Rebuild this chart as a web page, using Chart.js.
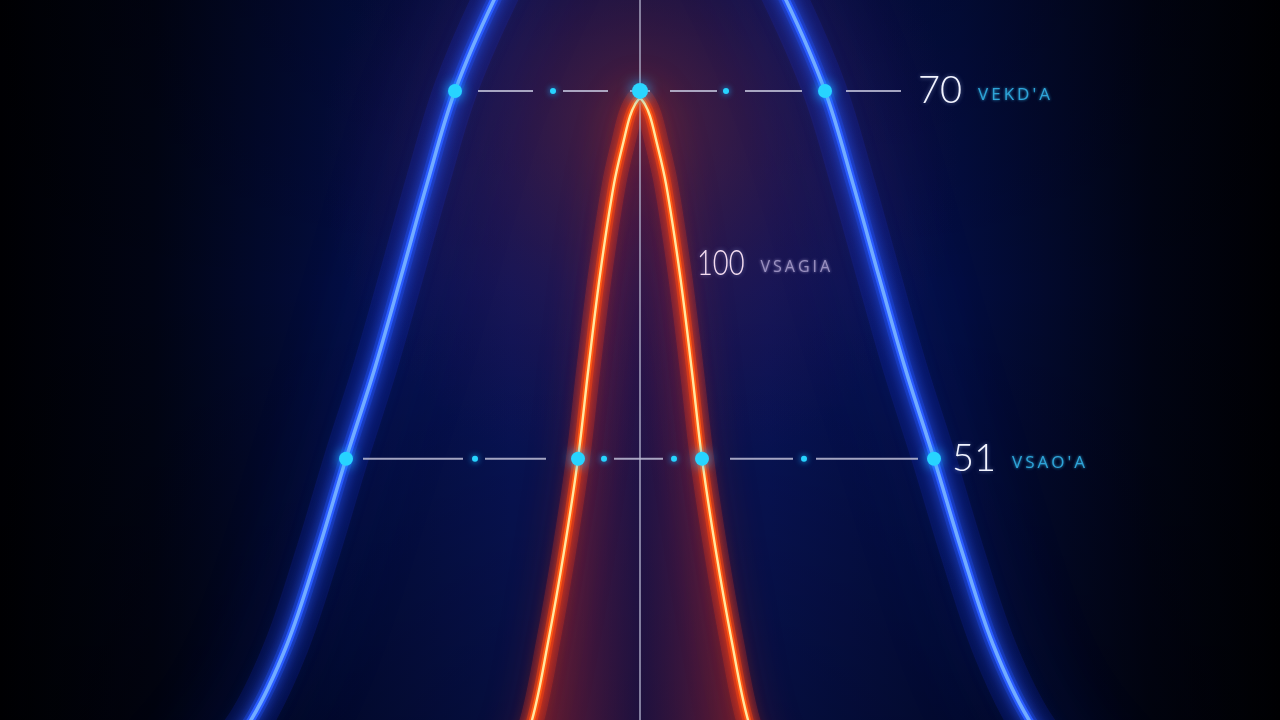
<!DOCTYPE html>
<html><head><meta charset="utf-8">
<script src="https://cdn.jsdelivr.net/npm/chart.js@4.4.1/dist/chart.umd.min.js"></script>
<style>html,body{margin:0;padding:0;background:#000;overflow:hidden}canvas{display:block}</style>
</head><body><canvas id="c" width="1280" height="720"></canvas>
<script>
// ---- data (x in arbitrary units, centre = 0) ----
const blueX = [-48,-43,-38.9,-35.3,-32.2,-29.4,-26.5,-23.9,-21.3,-18.5,-14.6,-10,-5,0,5,10,14.6,18.5,21.3,23.9,26.5,29.4,32.2,35.3,38.9,43,48];
const blueY = [32.4,34.8,37.5,41.4,46.2,51.0,55.7,60.4,65.2,70.0,74.7,79.2,82.0,83.0,82.0,79.2,74.7,70.0,65.2,60.4,55.7,51.0,46.2,41.4,37.5,34.8,32.4];
const orangeX = [-14,-12.5,-10.8,-9.2,-7.6,-6.2,-5.15,-4.0,-2.6,-1.55,-1,-0.5,0,0.5,1,1.55,2.6,4.0,5.15,6.2,7.6,9.2,10.8,12.5,14];
const orangeY = [34.0,35.3,37.5,41.5,46.2,51.0,55.7,60.5,65.2,67.6,68.7,69.3,69.6,69.3,68.7,67.6,65.2,60.5,55.7,51.0,46.2,41.5,37.5,35.3,34.0];
const refLevels = [70, 51];
const refFrom = [-16.2, -27.7];
const refTo = [26.1, 27.8];
const refNumbers = ['70', '51'];
const refUnits = ["VEKD'A", "VSAO'A"];
const refLabelX = [27.8, 31.2];
const peakNumber = '100';
const peakUnit = 'VSAGIA';
const peakLabelX = 5.7;
const peakLabelY = 61.1;
const bigDots70X = [-18.5, 18.5];
const centreDotX = [0];
const smallDots70X = [-8.7, 8.6];
const bigDots51X = [-29.4, -6.2, 6.2, 29.4];
const smallDots51X = [-16.5, -3.6, 3.4, 16.4];
const xMin = -64, xMax = 64, yMin = 37.5, yMax = 74.7;

const pts = (xs, ys) => xs.map((x, i) => ({x, y: ys[i]}));
const level = (xs, v) => xs.map(x => ({x, y: v}));
const bluePts = pts(blueX, blueY);
const orangePts = pts(orangeX, orangeY);

const bgPlugin = {
  id: 'bg',
  beforeDraw(chart) {
    const ctx = chart.ctx, w = chart.width, h = chart.height;
    ctx.save();
    let g = ctx.createLinearGradient(0, 0, w, 0);
    g.addColorStop(0, '#000003');
    g.addColorStop(0.12, '#010414');
    g.addColorStop(0.27, '#030d40');
    g.addColorStop(0.4, '#08145a');
    g.addColorStop(0.5, '#0e1450');
    g.addColorStop(0.6, '#08145a');
    g.addColorStop(0.75, '#030d40');
    g.addColorStop(0.9, '#010414');
    g.addColorStop(1, '#000003');
    ctx.fillStyle = g;
    ctx.fillRect(0, 0, w, h);
    let v = ctx.createLinearGradient(0, 0, 0, h);
    v.addColorStop(0, 'rgba(0,0,0,0.2)');
    v.addColorStop(0.4, 'rgba(0,0,0,0)');
    v.addColorStop(1, 'rgba(0,0,0,0.3)');
    ctx.fillStyle = v;
    ctx.fillRect(0, 0, w, h);
    let r = ctx.createRadialGradient(w / 2, 120, 10, w / 2, 160, 320);
    r.addColorStop(0, 'rgba(120,40,55,0.6)');
    r.addColorStop(0.5, 'rgba(80,28,70,0.3)');
    r.addColorStop(1, 'rgba(60,20,80,0)');
    ctx.fillStyle = r;
    ctx.fillRect(0, 0, w, h);
    ctx.restore();
  }
};

const glowPlugin = {
  id: 'glow',
  beforeDatasetDraw(chart, args) {
    const ds = chart.data.datasets[args.index];
    if (ds.glowColor) {
      chart.ctx.save();
      chart.ctx.shadowColor = ds.glowColor;
      chart.ctx.shadowBlur = ds.glowBlur || 10;
    }
  },
  afterDatasetDraw(chart, args) {
    const ds = chart.data.datasets[args.index];
    if (ds.glowColor) chart.ctx.restore();
  }
};

const labelPlugin = {
  id: 'labels',
  afterDatasetsDraw(chart) {
    const ctx = chart.ctx, xs = chart.scales.x, ys = chart.scales.y;
    ctx.save();
    ctx.textBaseline = 'middle';
    ctx.textAlign = 'left';
    const draw = (num, unit, xv, yv, numColor, unitColor, numFont, unitFont, squeeze) => {
      const px = xs.getPixelForValue(xv), py = ys.getPixelForValue(yv);
      ctx.save();
      ctx.font = numFont;
      ctx.fillStyle = numColor;
      ctx.shadowColor = 'rgba(180,200,255,0.5)';
      ctx.shadowBlur = 4;
      ctx.letterSpacing = '0px';
      ctx.translate(px, py);
      ctx.scale(squeeze, 1);
      ctx.fillText(num, 0, 0);
      const wNum = ctx.measureText(num).width * squeeze;
      ctx.restore();
      ctx.save();
      ctx.font = unitFont;
      ctx.fillStyle = unitColor;
      ctx.letterSpacing = '3px';
      ctx.shadowColor = unitColor;
      ctx.shadowBlur = 3;
      ctx.fillText(unit, px + wNum + 16, py + 4);
      ctx.restore();
    };
    refLevels.forEach((lv, i) => {
      draw(refNumbers[i], refUnits[i], refLabelX[i], lv, '#f2f4ff', '#2ea4d8',
        '300 38px Lato, "Open Sans", sans-serif', '500 17px "Open Sans", Lato, sans-serif', 1);
    });
    draw(peakNumber, peakUnit, peakLabelX, peakLabelY, '#f4dcf0', '#9a90c0',
      '300 35px Lato, sans-serif', '500 16px "Open Sans", Lato, sans-serif', 0.78);
    ctx.restore();
  }
};

const T = 0.35;
const datasets = [
  // orange red haze fill
  { data: orangePts, fill: 'start', borderWidth: 0, pointRadius: 0, order: 30, tension: T,
    backgroundColor: (c) => {
      const ch = c.chart, ca = ch.chartArea;
      if (!ca) return 'rgba(110,25,55,0.5)';
      const x0 = ch.scales.x.getPixelForValue(-11), x1 = ch.scales.x.getPixelForValue(11);
      const g = ch.ctx.createLinearGradient(x0, 0, x1, 0);
      g.addColorStop(0, 'rgba(170,40,35,0.6)');
      g.addColorStop(0.25, 'rgba(120,30,55,0.5)');
      g.addColorStop(0.5, 'rgba(60,20,70,0.4)');
      g.addColorStop(0.75, 'rgba(120,30,55,0.5)');
      g.addColorStop(1, 'rgba(170,40,35,0.6)');
      return g;
    } },
  // blue glows
  { data: bluePts, borderColor: 'rgba(25,60,255,0.14)', borderWidth: 44, pointRadius: 0, order: 29, tension: T, glowColor: 'rgba(30,70,255,0.9)', glowBlur: 80 },
  { data: bluePts, borderColor: 'rgba(30,80,255,0.3)', borderWidth: 14, pointRadius: 0, order: 28, tension: T, glowColor: 'rgba(40,90,255,1)', glowBlur: 25 },
  { data: bluePts, borderColor: '#2a5cff', borderWidth: 8, pointRadius: 0, order: 10, tension: T, glowColor: '#2a5cff', glowBlur: 14 },
  { data: bluePts, borderColor: '#72acff', borderWidth: 3.5, pointRadius: 0, order: 9, tension: T },
  // orange glows
  { data: orangePts, borderColor: 'rgba(255,60,30,0.2)', borderWidth: 24, pointRadius: 0, order: 27, tension: T, glowColor: 'rgba(255,50,30,0.9)', glowBlur: 40 },
  { data: orangePts, borderColor: 'rgba(255,70,20,0.4)', borderWidth: 11, pointRadius: 0, order: 26, tension: T, glowColor: 'rgba(255,60,20,1)', glowBlur: 16 },
  // centre vertical line
  { data: [{x: 0, y: yMin}, {x: 0, y: yMax}], borderColor: 'rgba(180,180,205,0.75)', borderWidth: 1.8, pointRadius: 0, order: 8 },
  { data: orangePts, borderColor: '#ff5a14', borderWidth: 6, pointRadius: 0, order: 7, tension: T, glowColor: '#ff4a10', glowBlur: 10 },
  { data: orangePts, borderColor: '#ffe6a0', borderWidth: 2.4, pointRadius: 0, order: 6, tension: T },
  // reference dashed lines
  { data: level([refFrom[0], refTo[0]], refLevels[0]), borderColor: 'rgba(190,190,215,0.85)', borderWidth: 2,
    borderDash: [55, 30, 45, 22, 20, 20, 47, 28, 57, 44, 55, 40], pointRadius: 0, order: 5 },
  { data: level([refFrom[1], refTo[1]], refLevels[1]), borderColor: 'rgba(190,190,215,0.85)', borderWidth: 2,
    borderDash: [100, 22, 61, 68, 49, 67, 63, 23, 102, 40], pointRadius: 0, order: 5 },
  // dots
  { type: 'scatter', data: level(centreDotX, refLevels[0]), backgroundColor: '#2ad6ff', borderWidth: 0, pointRadius: 8, order: 2, glowColor: '#1ab0ff', glowBlur: 14 },
  { type: 'scatter', data: level(bigDots70X, refLevels[0]).concat(level(bigDots51X, refLevels[1])), backgroundColor: '#27d4ff', borderWidth: 0, pointRadius: 7, order: 2, glowColor: '#1ab0ff', glowBlur: 12 },
  { type: 'scatter', data: level(smallDots70X, refLevels[0]).concat(level(smallDots51X, refLevels[1])), backgroundColor: '#27d4ff', borderWidth: 0, pointRadius: 3, order: 2, glowColor: '#1ab0ff', glowBlur: 6 }
];

new Chart(document.getElementById('c'), {
  type: 'line',
  data: { datasets },
  options: {
    responsive: false,
    animation: false,
    events: [],
    layout: { padding: 0, autoPadding: false },
    plugins: { legend: { display: false }, tooltip: { enabled: false } },
    scales: {
      x: { type: 'linear', min: xMin, max: xMax, display: false },
      y: { type: 'linear', min: yMin, max: yMax, display: false }
    }
  },
  plugins: [bgPlugin, glowPlugin, labelPlugin]
});
</script></body></html>
